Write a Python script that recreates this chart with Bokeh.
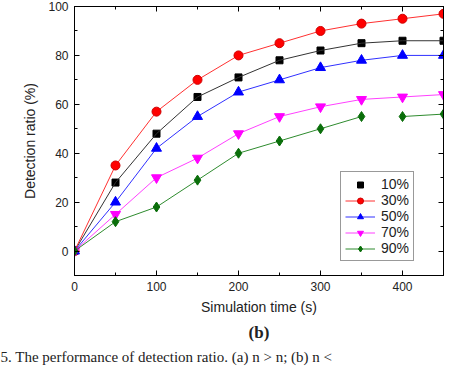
from bokeh.plotting import figure
from bokeh.models import (LinearAxis, Legend, LegendItem, Range1d, Title,
                          FixedTicker, CustomJSTickFormatter)
from bokeh.embed import file_html
from bokeh.resources import INLINE

times = [0, 50, 100, 150, 200, 250, 300, 350, 400, 450]
r10 = [0, 28, 48, 63, 71, 78, 82, 85, 86, 86]
r30 = [0, 35, 57, 70, 80, 85, 90, 93, 95, 97]
r50 = [0, 20, 42, 55, 65, 70, 75, 78, 80, 80]
r70 = [0, 15, 30, 38, 48, 55, 59, 62, 63, 64]
r90 = [0, 12, 18, 29, 40, 45, 50, 55, 55, 56]
labels = ["10%", "30%", "50%", "70%", "90%"]
x_major = [0, 100, 200, 300, 400]
x_minor = [50, 150, 250, 350, 450]
y_major = [0, 20, 40, 60, 80, 100]
y_minor = [-10, 10, 30, 50, 70, 90]

FONT = "Liberation Sans"
TXT = "#222222"

p = figure(width=474, height=370, output_backend="svg", toolbar_location=None,
           x_range=Range1d(0, 450), y_range=Range1d(-10, 100),
           min_border_left=74, min_border_right=31, min_border_top=6, min_border_bottom=95)
p.grid.visible = False
p.outline_line_color = "black"
p.outline_line_width = 1
p.background_fill_color = "white"
p.border_fill_color = "white"

p.xaxis[0].ticker = FixedTicker(ticks=x_major, minor_ticks=x_minor)
p.yaxis[0].ticker = FixedTicker(ticks=y_major, minor_ticks=y_minor)

for ax in [p.xaxis[0], p.yaxis[0]]:
    ax.major_tick_in = 5
    ax.major_tick_out = 0
    ax.minor_tick_in = 3
    ax.minor_tick_out = 0
    ax.axis_line_color = "black"
    ax.major_label_text_font = FONT
    ax.major_label_text_font_size = "12px"
    ax.major_label_text_color = TXT
    ax.axis_label_text_font = FONT
    ax.axis_label_text_font_size = "14px"
    ax.axis_label_text_font_style = "normal"
    ax.axis_label_text_color = TXT

p.xaxis.axis_label = "Simulation time (s)"
p.yaxis.axis_label = "Detection ratio (%)"
p.xaxis.major_label_standoff = 6
p.yaxis.major_label_standoff = 6
p.xaxis.axis_label_standoff = 5
p.yaxis.axis_label_standoff = 7

top = LinearAxis(ticker=FixedTicker(ticks=x_major, minor_ticks=x_minor),
                 major_tick_in=5, major_tick_out=0, minor_tick_in=3, minor_tick_out=0,
                 formatter=CustomJSTickFormatter(code="return ''"), major_label_standoff=0)
right = LinearAxis(ticker=FixedTicker(ticks=y_major, minor_ticks=y_minor),
                   major_tick_in=5, major_tick_out=0, minor_tick_in=3, minor_tick_out=0,
                   formatter=CustomJSTickFormatter(code="return ''"), major_label_standoff=0)
p.add_layout(top, "above")
p.add_layout(right, "right")

items = []
m = p.scatter(times, r10, marker="square", size=7, fill_color="black", line_color="black")
p.line(times, r10, line_color="#333333", line_width=1)
items.append(LegendItem(label=labels[0], renderers=[m]))

l = p.line(times, r30, line_color="#ff3030", line_width=1)
m = p.scatter(times, r30, marker="circle", size=9, fill_color="#ff0000", line_color="#d00000")
items.append(LegendItem(label=labels[1], renderers=[l, m]))

l = p.line(times, r50, line_color="#3030ff", line_width=1)
m = p.scatter(times, r50, marker="triangle", size=10, fill_color="#0000ff", line_color="#0000ff")
items.append(LegendItem(label=labels[2], renderers=[l, m]))

l = p.line(times, r70, line_color="#ff40ff", line_width=1)
m = p.scatter(times, r70, marker="inverted_triangle", size=10, fill_color="#ff00ff", line_color="#ff00ff")
items.append(LegendItem(label=labels[3], renderers=[l, m]))

l = p.line(times[:8], r90[:8], line_color="#2e8b2e", line_width=1)
p.line(times[8:], r90[8:], line_color="#2e8b2e", line_width=1)
m = p.scatter(times, r90, marker="diamond", size=10, fill_color="#0a6e0a", line_color="#0a6e0a")
items.append(LegendItem(label=labels[4], renderers=[l, m]))

legend = Legend(items=items, location=(266, 14), orientation="vertical",
                label_text_font=FONT, label_text_font_size="14px", label_text_color=TXT,
                glyph_width=30, glyph_height=15, label_height=15, spacing=0, padding=4,
                margin=0, border_line_color="#333333", border_line_width=1,
                background_fill_alpha=1.0, label_standoff=6)
p.add_layout(legend, "center")

p.add_layout(Title(text="(b)", text_font="Liberation Serif", text_font_size="17px",
                   text_font_style="bold", text_color=TXT, align="center", standoff=6), "below")
p.add_layout(Title(text="5. The performance of detection ratio. (a) n > n; (b) n <",
                   text_font="Liberation Serif", text_font_size="15px", text_font_style="normal",
                   text_color=TXT, align="left", offset=-74, standoff=4), "below")

open("out.html", "w").write(file_html(p, INLINE))
